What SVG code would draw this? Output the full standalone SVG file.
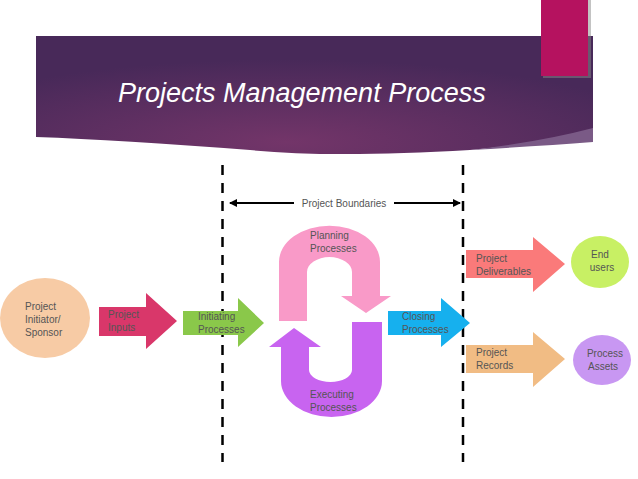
<svg xmlns="http://www.w3.org/2000/svg" width="638" height="479" viewBox="0 0 638 479">
<defs>
<radialGradient id="bg" cx="0.45" cy="0.9" r="0.7">
<stop offset="0" stop-color="#733569"/><stop offset="1" stop-color="#482959"/>
</radialGradient>
<marker id="ah" markerWidth="8" markerHeight="8" refX="7" refY="4" orient="auto-start-reverse" markerUnits="userSpaceOnUse"><path d="M0,0 L8,4 L0,8 z" fill="#000"/></marker>
<style>
.t{font-family:"Liberation Sans",Arial,sans-serif;font-size:10px;fill:#555}
.d{stroke:#000;stroke-width:2.5;stroke-dasharray:10,8;fill:none}
</style>
</defs>
<rect width="638" height="479" fill="#fff"/>
<path d="M36,36 H593 V142 Q560,140 470,150 Q330,158 250,150 Q120,140 36,137 Z" fill="url(#bg)"/>
<path d="M593,128 Q540,142 470,150 Q540,146 593,142 Z" fill="#7a5a86"/>
<rect x="543" y="0" width="48" height="78" fill="#888" opacity="0.5"/>
<rect x="541" y="0" width="47" height="76" fill="#b5125f"/>
<text x="118" y="102" font-family="'Liberation Sans',Arial,sans-serif" font-style="italic" font-size="27" fill="#fff">Projects Management Process</text>

<g id="connectors">
<line class="d" x1="222.5" y1="165" x2="222.5" y2="462"/>
<line class="d" x1="463" y1="165" x2="463" y2="462"/>
<line x1="230" y1="203" x2="294" y2="203" stroke="#000" stroke-width="2" marker-start="url(#ah)"/>
<line x1="394" y1="203" x2="460" y2="203" stroke="#000" stroke-width="2" marker-end="url(#ah)"/>
<text class="t" x="344" y="207" text-anchor="middle">Project Boundaries</text>
</g>

<g id="initiator">
<ellipse cx="45" cy="318" rx="45" ry="40" fill="#f7cba5"/>
<text class="t" x="25" y="310">Project</text><text class="t" x="25" y="323">Initiator/</text><text class="t" x="25" y="336">Sponsor</text>
</g>
<g id="inputs">
<path d="M99,307 H146 V293 L177,321 L146,349 V336 H99 Z" fill="#d9376a"/>
<text class="t" x="108" y="318">Project</text><text class="t" x="108" y="331">Inputs</text>
</g>
<g id="initiating">
<path d="M183,311 H238 V298 L264,323 L238,347 V335 H183 Z" fill="#8ac84a"/>
<text class="t" x="198" y="320">Initiating</text><text class="t" x="198" y="333">Processes</text>
</g>
<g id="planning">
<path d="M279,321 V262 A50,36 0 0 1 380,262 V296 H391 L366,313 L341,296 H352 V272 A22.5,15 0 0 0 307,272 V321 Z" fill="#f99ac8"/>
<text class="t" x="310" y="239">Planning</text><text class="t" x="310" y="252">Processes</text>
</g>
<g id="executing">
<path d="M382,322 V381 A50.5,36 0 0 1 281,381 V347 H269 L294,328 L321,347 H309 V370 A21.5,12 0 0 0 352,370 V322 Z" fill="#c864f0"/>
<text class="t" x="310" y="398">Executing</text><text class="t" x="310" y="411">Processes</text>
</g>
<g id="closing">
<path d="M388,311 H441 V298 L470,323 L441,347 V335 H388 Z" fill="#16b0ee"/>
<text class="t" x="402" y="320">Closing</text><text class="t" x="402" y="333">Processes</text>
</g>
<g id="deliverables">
<path d="M466,250 H533 V237 L565,264 L533,292 V278 H466 Z" fill="#fa7a7a"/>
<text class="t" x="476" y="262">Project</text><text class="t" x="476" y="275">Deliverables</text>
</g>
<g id="records">
<path d="M466,345 H533 V332 L565,359 L533,387 V373 H466 Z" fill="#f1bc84"/>
<text class="t" x="476" y="356">Project</text><text class="t" x="476" y="369">Records</text>
</g>
<g id="endusers">
<ellipse cx="600" cy="262" rx="29" ry="26" fill="#c8f064"/>
<text class="t" x="600" y="258" text-anchor="middle">End</text><text class="t" x="602" y="271" text-anchor="middle">users</text>
</g>
<g id="assets">
<ellipse cx="602" cy="360" rx="29" ry="25" fill="#c897f2"/>
<text class="t" x="605" y="357" text-anchor="middle">Process</text><text class="t" x="603" y="370" text-anchor="middle">Assets</text>
</g>
</svg>
